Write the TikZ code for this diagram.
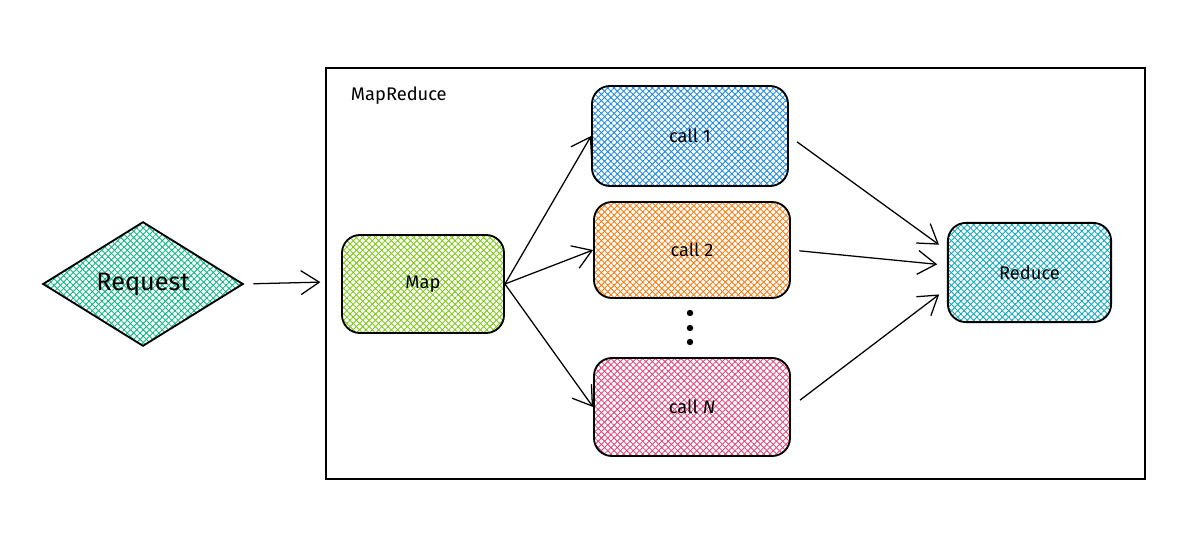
\documentclass[tikz,border=0pt]{standalone}
\usepackage{fontspec}
\setmainfont{Fira Sans}
\usetikzlibrary{shapes.geometric,arrows.meta,patterns.meta}
\definecolor{reqgreen}{HTML}{12B886}
\definecolor{maplime}{HTML}{82C91E}
\definecolor{callblue}{HTML}{228BE6}
\definecolor{callorange}{HTML}{FD7E14}
\definecolor{callpink}{HTML}{E64980}
\definecolor{redcyan}{HTML}{15AABF}
\tikzset{
  hatch/.style={pattern={Lines[angle=45,distance=3.2pt,line width=0.65pt]}, pattern color=#1,
    preaction={pattern={Lines[angle=-45,distance=3.2pt,line width=0.65pt]}, pattern color=#1}},
  box/.style={draw, line width=1.3pt, rounded corners=0.45cm, hatch=#1, font=\fontsize{13}{15}\selectfont},
  arr/.style={-{Straight Barb[length=13pt,width=17pt]}, line width=0.9pt},
}
\begin{document}
\begin{tikzpicture}[x=0.025cm, y=-0.025cm]
    \useasboundingbox (0,0) rectangle (1200,543);
    \draw[line width=0.9pt] (326,68) rectangle (1145,479);
    \node [anchor=west, font=\fontsize{13}{15}\selectfont] (title) at (346,96) {MapReduce};
    \node [diamond, draw, line width=1.3pt, hatch=reqgreen, minimum width=5.0cm, minimum height=3.1cm, inner sep=0pt, font=\fontsize{18}{20}\selectfont] (request) at (143,284) {Request};
    \node [box=maplime, minimum width=4.05cm, minimum height=2.45cm] (map) at (423,284) {Map};
    \node [box=callblue, minimum width=4.9cm, minimum height=2.5cm] (call1) at (690,136) {call 1};
    \node [box=callorange, minimum width=4.9cm, minimum height=2.4cm] (call2) at (692,250) {call 2};
    \node [box=callpink, minimum width=4.9cm, minimum height=2.45cm] (callN) at (692,407) {call \textit{N}};
    \node [box=redcyan, minimum width=4.08cm, minimum height=2.48cm] (reduce) at (1029.5,272.5) {Reduce};
    \fill (690,313) circle (3.2) (690,328) circle (3.2) (690,342) circle (3.2);
    \draw[arr, shorten <=7pt, shorten >=4pt] (request.east) -- (326,282);
    \draw[arr] (map.east) -- (call1.west);
    \draw[arr] (map.east) -- (call2.west);
    \draw[arr] (map.east) -- (callN.west);
    \draw[arr, shorten <=7pt, shorten >=7pt] (call1.east) -- ([yshift=0.55cm]reduce.west);
    \draw[arr, shorten <=6pt, shorten >=7pt] (call2.east) -- ([yshift=0.18cm]reduce.west);
    \draw[arr, shorten <=8pt, shorten >=7pt] (callN.east) -- ([yshift=-0.4cm]reduce.west);
\end{tikzpicture}
\end{document}
